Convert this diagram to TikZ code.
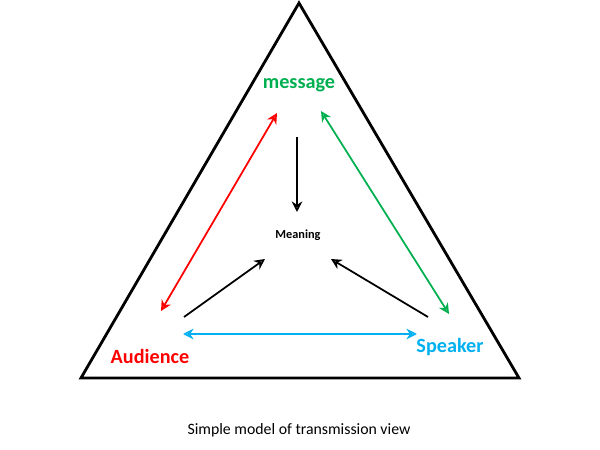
\documentclass[tikz,border=0pt]{standalone}
\usepackage{fontspec}
\setmainfont{Carlito}
\usetikzlibrary{arrows.meta}
\definecolor{msggreen}{RGB}{0,176,80}
\definecolor{spkblue}{RGB}{0,176,240}
\begin{document}
\begin{tikzpicture}[x=0.02cm,y=-0.02cm,
  lbl/.style={font=\fontsize{11.5}{13}\selectfont\bfseries},
  twoway/.style={{Stealth[open,length=6pt,width=6pt]}-{Stealth[open,length=6pt,width=6pt]},line width=1pt},
  oneway/.style={-{Stealth[open,length=6pt,width=6pt]},line width=1pt}]
\useasboundingbox (0,0) rectangle (600,450);

%les sommets du triangle
\coordinate (T) at (299,3);
\coordinate (L) at (81,378);
\coordinate (R) at (519,378);
\draw[line width=1.6pt,line join=miter] (T)--(L)--(R)--cycle;

%les textes
\node[lbl,text=msggreen] (msg) at (299,85) {message};
\node[lbl,text=red] (aud) at (150,356) {Audience};
\node[lbl,text=spkblue] (spk) at (450,347) {Speaker};
\node[font=\fontsize{7}{8}\selectfont\bfseries] (mean) at (298,235) {Meaning};
\node[font=\fontsize{9}{10}\selectfont] (cap) at (299,430) {Simple model of transmission view};

%les fleches doubles
\coordinate (a1) at (277,113); \coordinate (a2) at (161,311);
\coordinate (g1) at (321,111); \coordinate (g2) at (449,314);
\coordinate (b1) at (183,334); \coordinate (b2) at (417,334);
\draw[twoway,red] (a1)--(a2);
\draw[twoway,msggreen] (g1)--(g2);
\draw[twoway,spkblue] (b1)--(b2);

%les fleches vers Meaning
\coordinate (m1) at (297,137); \coordinate (m2) at (297,212);
\coordinate (l1) at (184,317); \coordinate (l2) at (265,259);
\coordinate (r1) at (428,317); \coordinate (r2) at (331,259);
\draw[oneway] (m1)--(m2);
\draw[oneway] (l1)--(l2);
\draw[oneway] (r1)--(r2);
\end{tikzpicture}
\end{document}
